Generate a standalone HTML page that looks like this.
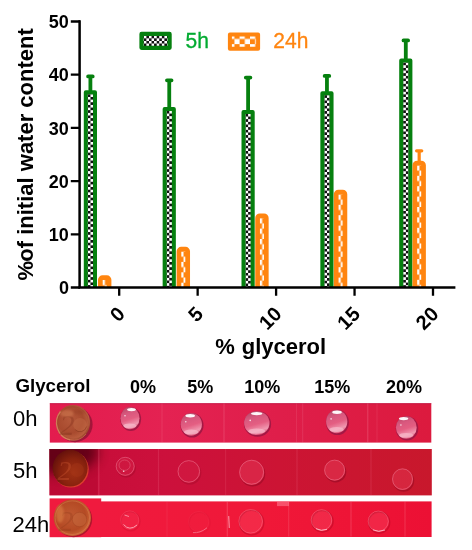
<!DOCTYPE html>
<html lang="en"><head><meta charset="utf-8"><title>Water content vs glycerol</title>
<style>html,body{margin:0;padding:0;background:#fff}body{width:472px;height:550px;overflow:hidden}svg{display:block}text{font-family:"Liberation Sans",sans-serif}.b{font-weight:bold}</style>
</head><body>
<svg width="472" height="550" viewBox="0 0 472 550">
<defs>
<pattern id="pg" width="5.3" height="5.3" patternUnits="userSpaceOnUse"><rect width="5.3" height="5.3" fill="#fff"/><rect width="2.65" height="2.65" fill="#111"/><rect x="2.65" y="2.65" width="2.65" height="2.65" fill="#111"/></pattern>
<pattern id="pg2" width="5.14" height="5.14" patternUnits="userSpaceOnUse"><rect width="5.14" height="5.14" fill="#fff"/><rect width="2.57" height="2.57" fill="#111"/><rect x="2.57" y="2.57" width="2.57" height="2.57" fill="#111"/></pattern>
<pattern id="po" width="10.4" height="10.4" patternUnits="userSpaceOnUse"><rect width="10.4" height="10.4" fill="#ff8510"/><rect width="5.2" height="5.2" fill="#fff"/><rect x="5.2" y="5.2" width="5.2" height="5.2" fill="#fff"/></pattern>
<filter color-interpolation-filters="sRGB" id="soft" x="-2%" y="-2%" width="104%" height="104%"><feGaussianBlur stdDeviation="0.4"/></filter>
<filter color-interpolation-filters="sRGB" id="b06" x="-20%" y="-20%" width="140%" height="140%"><feGaussianBlur stdDeviation="0.6"/></filter>
<filter color-interpolation-filters="sRGB" id="b1" x="-20%" y="-20%" width="140%" height="140%"><feGaussianBlur stdDeviation="1"/></filter>
<filter color-interpolation-filters="sRGB" id="b2" x="-30%" y="-30%" width="160%" height="160%"><feGaussianBlur stdDeviation="2.2"/></filter>
<filter color-interpolation-filters="sRGB" id="b5" x="-50%" y="-50%" width="200%" height="200%"><feGaussianBlur stdDeviation="6"/></filter>
<filter color-interpolation-filters="sRGB" id="edge" x="-2%" y="-5%" width="104%" height="110%"><feGaussianBlur stdDeviation="0.45"/></filter>
<linearGradient id="gdrop" x1="0.3" y1="0" x2="0.6" y2="1"><stop offset="0" stop-color="#b84868"/><stop offset="0.28" stop-color="#d8587e"/><stop offset="0.55" stop-color="#e45e82"/><stop offset="0.82" stop-color="#f098b0"/><stop offset="1" stop-color="#dc5478"/></linearGradient>
<radialGradient id="gflat" cx="0.42" cy="0.38" r="0.75"><stop offset="0" stop-color="#e43458"/><stop offset="0.7" stop-color="#dc2c50"/><stop offset="1" stop-color="#c41c40"/></radialGradient>
<radialGradient id="gc1" cx="0.42" cy="0.42" r="0.62"><stop offset="0" stop-color="#b4583a"/><stop offset="0.6" stop-color="#a84a2e"/><stop offset="0.88" stop-color="#ba5e3e"/><stop offset="1" stop-color="#8c3424"/></radialGradient>
<radialGradient id="gc2" cx="0.6" cy="0.62" r="0.75"><stop offset="0" stop-color="#a03214"/><stop offset="0.5" stop-color="#88220e"/><stop offset="1" stop-color="#580a0a"/></radialGradient>
<radialGradient id="gc3" cx="0.45" cy="0.45" r="0.62"><stop offset="0" stop-color="#c05a32"/><stop offset="0.65" stop-color="#b44a24"/><stop offset="0.9" stop-color="#cc6434"/><stop offset="1" stop-color="#98341a"/></radialGradient>
<linearGradient id="gs1" x1="0" x2="1" y1="0" y2="0"><stop offset="0" stop-color="#e31c4e"/><stop offset="0.3" stop-color="#e42252"/><stop offset="0.6" stop-color="#df1e4a"/><stop offset="1" stop-color="#dc1a3e"/></linearGradient>
<linearGradient id="gs2" gradientUnits="userSpaceOnUse" x1="49.4" x2="432.6" y1="0" y2="0"><stop offset="0" stop-color="#c40c38"/><stop offset="0.3" stop-color="#cc103c"/><stop offset="0.6" stop-color="#cc1434"/><stop offset="1" stop-color="#c8182c"/></linearGradient>
<linearGradient id="gs3" x1="0" x2="1" y1="0" y2="0"><stop offset="0" stop-color="#f01a3e"/><stop offset="0.5" stop-color="#f01838"/><stop offset="1" stop-color="#ec1034"/></linearGradient>
<clipPath id="cl2"><rect x="49.4" y="449" width="382.4" height="46.4"/></clipPath>
</defs>
<rect width="472" height="550" fill="#fff"/>
<g id="chart" filter="url(#soft)">
<path d="M90.4 90.3V76.4M88.1 76.4H92.7" stroke="#06800f" stroke-width="3.8" stroke-linecap="round" fill="none"/>
<g transform="translate(87.8 94.3)"><rect x="-2" y="-2" width="9.2" height="197.2" fill="url(#pg)" stroke="#06800f" stroke-width="4.0" stroke-linejoin="round"/></g>
<g transform="translate(99.7 280)"><rect x="0.65" y="-2.35" width="8.7" height="12.2" rx="2.2" fill="url(#po)" stroke="#ff8510" stroke-width="4.7" stroke-linejoin="round"/></g>
<path d="M169.25 106.9V80.3M166.95 80.3H171.55" stroke="#06800f" stroke-width="3.8" stroke-linecap="round" fill="none"/>
<g transform="translate(166.65 110.9)"><rect x="-2" y="-2" width="9.2" height="180.6" fill="url(#pg)" stroke="#06800f" stroke-width="4.0" stroke-linejoin="round"/></g>
<g transform="translate(178.32 251.5)"><rect x="0.65" y="-2.35" width="8.7" height="40.7" rx="2.2" fill="url(#po)" stroke="#ff8510" stroke-width="4.7" stroke-linejoin="round"/></g>
<path d="M248.1 109.9V77.6M245.8 77.6H250.4" stroke="#06800f" stroke-width="3.8" stroke-linecap="round" fill="none"/>
<g transform="translate(245.5 113.9)"><rect x="-2" y="-2" width="9.2" height="177.6" fill="url(#pg)" stroke="#06800f" stroke-width="4.0" stroke-linejoin="round"/></g>
<g transform="translate(256.94 218.2)"><rect x="0.65" y="-2.35" width="8.7" height="74" rx="2.2" fill="url(#po)" stroke="#ff8510" stroke-width="4.7" stroke-linejoin="round"/></g>
<path d="M326.95 91.2V75.9M324.65 75.9H329.25" stroke="#06800f" stroke-width="3.8" stroke-linecap="round" fill="none"/>
<g transform="translate(324.35 95.2)"><rect x="-2" y="-2" width="9.2" height="196.3" fill="url(#pg)" stroke="#06800f" stroke-width="4.0" stroke-linejoin="round"/></g>
<g transform="translate(335.56 194.4)"><rect x="0.65" y="-2.35" width="8.7" height="97.8" rx="2.2" fill="url(#po)" stroke="#ff8510" stroke-width="4.7" stroke-linejoin="round"/></g>
<path d="M405.8 58.6V40.4M403.5 40.4H408.1" stroke="#06800f" stroke-width="3.8" stroke-linecap="round" fill="none"/>
<g transform="translate(403.2 62.6)"><rect x="-2" y="-2" width="9.2" height="228.9" fill="url(#pg)" stroke="#06800f" stroke-width="4.0" stroke-linejoin="round"/></g>
<path d="M419.18 160.7V150.8M416.58 150.8H421.78" stroke="#ff8510" stroke-width="3.2" stroke-linecap="round" fill="none"/>
<g transform="translate(414.18 165.4)"><rect x="0.65" y="-2.35" width="8.7" height="126.8" rx="2.2" fill="url(#po)" stroke="#ff8510" stroke-width="4.7" stroke-linejoin="round"/></g>
<rect x="60" y="287.5" width="412" height="12" fill="#fff"/>
<path d="M79.6 20.3V288.75M78.2 287.5H455.4" stroke="#000" stroke-width="2.5" fill="none"/>
<path d="M70.8 287.5H80M70.8 234.3H80M70.8 181.1H80M70.8 127.9H80M70.8 74.7H80M70.8 21.5H80M119.2 287.5V295.8M197.65 287.5V295.8M276.1 287.5V295.8M354.55 287.5V295.8M433 287.5V295.8" stroke="#000" stroke-width="2.3" fill="none"/>
<text class="b" x="68.9" y="294.1" font-size="18" text-anchor="end">0</text>
<text class="b" x="68.9" y="240.9" font-size="18" text-anchor="end">10</text>
<text class="b" x="68.9" y="187.7" font-size="18" text-anchor="end">20</text>
<text class="b" x="68.9" y="134.5" font-size="18" text-anchor="end">30</text>
<text class="b" x="68.9" y="81.3" font-size="18" text-anchor="end">40</text>
<text class="b" x="68.9" y="28.1" font-size="18" text-anchor="end">50</text>
<text class="b" font-size="20" text-anchor="end" transform="translate(126 315.2) rotate(-45)">0</text>
<text class="b" font-size="20" text-anchor="end" transform="translate(204.45 315.2) rotate(-45)">5</text>
<text class="b" font-size="20" text-anchor="end" transform="translate(282.9 315.2) rotate(-45)">10</text>
<text class="b" font-size="20" text-anchor="end" transform="translate(361.35 315.2) rotate(-45)">15</text>
<text class="b" font-size="20" text-anchor="end" transform="translate(439.8 315.2) rotate(-45)">20</text>
<text class="b" font-size="22" transform="translate(32.9 280.4) rotate(-90)">%</text>
<text class="b" font-size="22" text-anchor="end" transform="translate(32.9 28.2) rotate(-90)">of initial water content</text>
<text class="b" font-size="22" x="215.2" y="353.8">% <tspan dx="0.8">glycerol</tspan></text>
<g transform="translate(146.4 35.8)"><rect x="-4.9" y="-1.9" width="28.1" height="13.9" fill="url(#pg2)" stroke="#06800f" stroke-width="4.2" stroke-linejoin="round"/></g>
<text font-size="21" transform="translate(185.6 47.7) scale(1 1.07)" fill="#00aa30" stroke="#00aa30" stroke-width="0.3">5h</text>
<g transform="translate(229.2 33.75)"><rect x="0.7" y="0.65" width="28.2" height="14.3" fill="url(#po)" stroke="#ff8510" stroke-width="4" stroke-linejoin="round"/></g>
<text font-size="21" transform="translate(273.3 47.7) scale(1 1.07)" fill="#ff8510" stroke="#ff8510" stroke-width="0.3">24h</text>
</g>
<g id="panel">
<g filter="url(#soft)">
<text class="b" font-size="18" x="15.4" y="392.4" textLength="75" lengthAdjust="spacingAndGlyphs">Glycerol</text>
<text class="b" font-size="18" x="143.1" y="393.2" text-anchor="middle">0%</text>
<text class="b" font-size="18" x="200.3" y="393.2" text-anchor="middle">5%</text>
<text class="b" font-size="18" x="262.3" y="393.2" text-anchor="middle">10%</text>
<text class="b" font-size="18" x="332.2" y="393.2" text-anchor="middle">15%</text>
<text class="b" font-size="18" x="403.9" y="393.2" text-anchor="middle">20%</text>
<text font-size="22" x="13" y="426">0h</text>
<text font-size="22" x="13" y="478.4">5h</text>
<text font-size="22" x="12.6" y="531.8">24h</text>
</g>
<g filter="url(#edge)">
<rect x="49.8" y="403.2" width="381.5" height="39.4" fill="url(#gs1)"/>
<rect x="49.8" y="403.2" width="381.5" height="1" fill="#b01444" opacity="0.55"/>
<rect x="161.5" y="403.4" width="1" height="39" fill="#ffb0c0" opacity="0.15"/>
<rect x="223.5" y="403.4" width="1" height="39" fill="#ffb0c0" opacity="0.22"/>
<rect x="296.0" y="403.4" width="1" height="39" fill="#ffb0c0" opacity="0.12"/>
<rect x="302.2" y="403.4" width="1" height="39" fill="#ffb0c0" opacity="0.15"/>
<rect x="367.3" y="403.4" width="1" height="39" fill="#ffb0c0" opacity="0.25"/>
<rect x="376.5" y="403.4" width="1" height="39" fill="#ffb0c0" opacity="0.12"/>
</g>
<g filter="url(#edge)">
<rect x="49.4" y="449" width="382.4" height="46.4" fill="url(#gs2)"/>
<g clip-path="url(#cl2)">
<rect x="49.4" y="448.7" width="48.2" height="46.6" fill="#b00830" opacity="0.4"/>
<ellipse cx="58" cy="452" rx="40" ry="22" fill="#5c0014" opacity="0.9" filter="url(#b5)"/>
</g>
<rect x="98.2" y="449" width="1.2" height="46" fill="#ff90a8" opacity="0.2"/>
<rect x="157.9" y="449" width="1.2" height="46" fill="#ff90a8" opacity="0.16"/>
<rect x="225.0" y="449" width="1.2" height="46" fill="#ff90a8" opacity="0.12"/>
<rect x="296.4" y="449" width="1.2" height="46" fill="#ff90a8" opacity="0.15"/>
<rect x="370.4" y="449" width="1.2" height="46" fill="#ff90a8" opacity="0.15"/>
</g>
<g filter="url(#edge)">
<rect x="49.6" y="498.4" width="51.6" height="38.8" fill="#f01a3e"/>
<rect x="101" y="501.4" width="330.6" height="35.6" fill="url(#gs3)"/>
<rect x="166.4" y="501.6" width="1.2" height="35" fill="#ffa0b0" opacity="0.1"/>
<rect x="226.70000000000002" y="501.6" width="1.2" height="35" fill="#ffa0b0" opacity="0.25"/>
<rect x="288.09999999999997" y="501.6" width="1.2" height="35" fill="#ffa0b0" opacity="0.18"/>
<rect x="350.4" y="501.6" width="1.2" height="35" fill="#ffa0b0" opacity="0.22"/>
<rect x="404.4" y="501.6" width="1.2" height="35" fill="#ffa0b0" opacity="0.2"/>
<rect x="277" y="501.6" width="12" height="4.5" fill="#ff8ca0" opacity="0.5"/>
</g>
<g filter="url(#b06)">
<ellipse cx="75" cy="424.6" rx="17.6" ry="17.6" fill="#981436" opacity="0.85"/>
<ellipse cx="73" cy="422.8" rx="17.2" ry="17.8" fill="url(#gc1)"/>
<path d="M60.5 411.5 A17 17.6 0 0 0 70 440" fill="none" stroke="#e09068" stroke-width="1.3" opacity="0.7"/>
<path d="M70 440 A17 17.6 0 0 0 86 434" fill="none" stroke="#d8845c" stroke-width="1" opacity="0.5"/>
<ellipse cx="73" cy="422.8" rx="15.6" ry="16.2" fill="none" stroke="#8c3c24" stroke-width="0.7" opacity="0.35"/>
<circle cx="80" cy="424.7" r="6.8" fill="#c06844" opacity="0.5"/>
<path d="M75 429.5 A6.8 6.8 0 0 0 86.6 426.5" fill="none" stroke="#7c3018" stroke-width="0.9" opacity="0.5"/>
<text x="59.5" y="435" font-size="30" font-style="italic" fill="#7c2c18" opacity="0.33" style="font-family:'Liberation Serif',serif">2</text>
<ellipse cx="67" cy="413.5" rx="7" ry="3.5" fill="#d88458" opacity="0.45" filter="url(#b1)"/>
<ellipse cx="79" cy="412" rx="6" ry="2.5" fill="#8c3820" opacity="0.3" filter="url(#b1)"/>
</g>
<g filter="url(#b06)">
<ellipse cx="71" cy="469.3" rx="17.7" ry="18.3" fill="#e44c2c" opacity="0.8"/>
<ellipse cx="70.1" cy="468.2" rx="17.5" ry="18.4" fill="url(#gc2)"/>
<circle cx="77" cy="470" r="7" fill="#a83818" opacity="0.4"/>
<text x="57.5" y="479.5" font-size="28" font-style="italic" fill="#d86038" opacity="0.32" style="font-family:'Liberation Serif',serif">2</text>
</g>
<g filter="url(#b06)">
<ellipse cx="73.6" cy="519" rx="18.6" ry="18.2" fill="#a01428" opacity="0.8"/>
<ellipse cx="72.3" cy="517.7" rx="18.7" ry="18.3" fill="url(#gc3)"/>
<ellipse cx="72.3" cy="517.7" rx="17.2" ry="16.8" fill="none" stroke="#e08c5c" stroke-width="0.9" opacity="0.45"/>
<circle cx="79.5" cy="519.5" r="7.2" fill="#c86c40" opacity="0.45"/>
<circle cx="79.5" cy="519.5" r="7.2" fill="none" stroke="#983c1c" stroke-width="0.8" opacity="0.4"/>
<text x="58.5" y="530.5" font-size="30" font-style="italic" fill="#8c3818" opacity="0.3" style="font-family:'Liberation Serif',serif">2</text>
<ellipse cx="60" cy="514" rx="4" ry="9" fill="#e89050" opacity="0.45" filter="url(#b1)"/>
</g>
<g filter="url(#b06)">
<ellipse cx="130.7" cy="419.09999999999997" rx="10.4" ry="12.0" fill="#a41844"/>
<ellipse cx="130.0" cy="418.2" rx="9.5" ry="11.1" fill="url(#gdrop)"/>
<ellipse cx="129.89999999999998" cy="425.8" rx="6.4" ry="2.4" fill="#f8bccc" opacity="0.7" filter="url(#b06)"/>
<ellipse cx="131.5" cy="409.6" rx="4.4" ry="1.7" fill="#fff" opacity="0.95"/>
<circle cx="125.0" cy="415.8" r="0.8" fill="#fff" opacity="0.8"/>
</g>
<g filter="url(#b06)">
<ellipse cx="192.0" cy="425.2" rx="11.5" ry="12.3" fill="#a41844"/>
<ellipse cx="191.3" cy="424.3" rx="10.6" ry="11.4" fill="url(#gdrop)"/>
<ellipse cx="191.2" cy="432.1" rx="7.1" ry="2.5" fill="#f8bccc" opacity="0.7" filter="url(#b06)"/>
<ellipse cx="190.2" cy="415.8" rx="4.8" ry="1.7" fill="#fff" opacity="0.95"/>
<circle cx="185.8" cy="421.8" r="0.8" fill="#fff" opacity="0.8"/>
</g>
<g filter="url(#b06)">
<ellipse cx="257.5" cy="423.9" rx="13.6" ry="12.9" fill="#a41844"/>
<ellipse cx="256.8" cy="423.0" rx="12.7" ry="12.0" fill="url(#gdrop)"/>
<ellipse cx="256.7" cy="431.2" rx="8.4" ry="2.6" fill="#f8bccc" opacity="0.7" filter="url(#b06)"/>
<ellipse cx="256.7" cy="413.6" rx="5.7" ry="1.7" fill="#fff" opacity="0.95"/>
<circle cx="250.2" cy="420.4" r="0.8" fill="#fff" opacity="0.8"/>
</g>
<g filter="url(#b06)">
<ellipse cx="337.4" cy="422.4" rx="11.5" ry="12.7" fill="#a41844"/>
<ellipse cx="336.7" cy="421.5" rx="10.6" ry="11.799999999999999" fill="url(#gdrop)"/>
<ellipse cx="336.59999999999997" cy="429.6" rx="7.1" ry="2.5" fill="#f8bccc" opacity="0.7" filter="url(#b06)"/>
<ellipse cx="337" cy="412.2" rx="4.8" ry="1.7" fill="#fff" opacity="0.95"/>
<circle cx="331.1" cy="418.9" r="0.8" fill="#fff" opacity="0.8"/>
</g>
<g filter="url(#b06)">
<ellipse cx="407.0" cy="428.4" rx="11.3" ry="12.2" fill="#a41844"/>
<ellipse cx="406.3" cy="427.5" rx="10.4" ry="11.299999999999999" fill="url(#gdrop)"/>
<ellipse cx="406.2" cy="435.3" rx="7.0" ry="2.4" fill="#f8bccc" opacity="0.7" filter="url(#b06)"/>
<ellipse cx="403.6" cy="418.6" rx="4.7" ry="1.7" fill="#fff" opacity="0.95"/>
<circle cx="400.9" cy="425.0" r="0.8" fill="#fff" opacity="0.8"/>
</g>
<g filter="url(#b06)">
<ellipse cx="126.2" cy="467.90000000000003" rx="9.7" ry="9.7" fill="#84061f" opacity="0.27"/>
<ellipse cx="125.4" cy="466.6" rx="9.399999999999999" ry="9.399999999999999" fill="url(#gs2)"/>
<ellipse cx="125.4" cy="466.6" rx="9.399999999999999" ry="9.399999999999999" fill="#f8506c" opacity="0.12"/>
<ellipse cx="125.2" cy="466.3" rx="9.0" ry="9.0" fill="none" stroke="#f48ca4" stroke-width="0.9" opacity="0.5"/>
</g>
<ellipse cx="124.6" cy="465.2" rx="5.6" ry="5.2" fill="none" stroke="#f08ca0" stroke-width="0.8" opacity="0.45" filter="url(#b06)"/>
<circle cx="123.7" cy="471.2" r="0.8" fill="#fff" opacity="0.8"/>
<g filter="url(#b06)">
<ellipse cx="189.8" cy="473.0" rx="11.5" ry="11.5" fill="#84061f" opacity="0.25"/>
<ellipse cx="189" cy="471.7" rx="11.2" ry="11.2" fill="url(#gs2)"/>
<ellipse cx="189" cy="471.7" rx="11.2" ry="11.2" fill="#f8506c" opacity="0.10"/>
<ellipse cx="188.8" cy="471.4" rx="10.8" ry="10.8" fill="none" stroke="#f48ca4" stroke-width="0.9" opacity="0.5"/>
</g>
<g filter="url(#b06)">
<ellipse cx="252.60000000000002" cy="473.8" rx="12.7" ry="12.7" fill="#84061f" opacity="0.45"/>
<ellipse cx="251.8" cy="472.5" rx="12.399999999999999" ry="12.399999999999999" fill="url(#gs2)"/>
<ellipse cx="251.8" cy="472.5" rx="12.399999999999999" ry="12.399999999999999" fill="#f8506c" opacity="0.30"/>
<ellipse cx="251.60000000000002" cy="472.2" rx="12.0" ry="12.0" fill="none" stroke="#f48ca4" stroke-width="0.9" opacity="0.5"/>
</g>
<g filter="url(#b06)">
<ellipse cx="335.6" cy="471.7" rx="10.7" ry="10.7" fill="#84061f" opacity="0.47"/>
<ellipse cx="334.8" cy="470.4" rx="10.399999999999999" ry="10.399999999999999" fill="url(#gs2)"/>
<ellipse cx="334.8" cy="470.4" rx="10.399999999999999" ry="10.399999999999999" fill="#f8506c" opacity="0.32"/>
<ellipse cx="334.6" cy="470.09999999999997" rx="10.0" ry="10.0" fill="none" stroke="#f48ca4" stroke-width="0.9" opacity="0.5"/>
</g>
<g filter="url(#b06)">
<ellipse cx="403.5" cy="480.7" rx="10.7" ry="11" fill="#84061f" opacity="0.43"/>
<ellipse cx="402.7" cy="479.4" rx="10.399999999999999" ry="10.7" fill="url(#gs2)"/>
<ellipse cx="402.7" cy="479.4" rx="10.399999999999999" ry="10.7" fill="#f8506c" opacity="0.28"/>
<ellipse cx="402.5" cy="479.09999999999997" rx="10.0" ry="10.3" fill="none" stroke="#f48ca4" stroke-width="0.9" opacity="0.5"/>
</g>
<g filter="url(#b06)">
<ellipse cx="130.6" cy="521.3" rx="9.5" ry="9.5" fill="none" stroke="#b00824" stroke-width="1.3" opacity="0.22"/>
<ellipse cx="130" cy="520.4" rx="8.9" ry="8.9" fill="#ff7088" opacity="0.10"/>
<ellipse cx="129.7" cy="520.0" rx="9.1" ry="9.1" fill="none" stroke="#ffa0b0" stroke-width="0.8" opacity="0.21"/>
</g>
<path d="M123.5 524.5 Q129.5 531.5 137 525" fill="none" stroke="#ffd0d8" stroke-width="1" opacity="0.7" filter="url(#b06)"/>
<path d="M124.5 515 L129 516.5" fill="none" stroke="#ffd0d8" stroke-width="1" opacity="0.6" filter="url(#b06)"/>
<g filter="url(#b06)">
<ellipse cx="199.6" cy="522.9" rx="10.5" ry="10.5" fill="none" stroke="#b00824" stroke-width="1.3" opacity="0.10"/>
<ellipse cx="199" cy="522" rx="9.9" ry="9.9" fill="#ff7088" opacity="0.04"/>
<ellipse cx="198.7" cy="521.6" rx="10.1" ry="10.1" fill="none" stroke="#ffa0b0" stroke-width="0.8" opacity="0.09"/>
</g>
<path d="M193 532.6 Q200 533.5 207 527.8" fill="none" stroke="#ffc0cc" stroke-width="0.9" opacity="0.5" filter="url(#b06)"/>
<path d="M228.6 516 L229.4 528" stroke="#ffd8e0" stroke-width="1.4" opacity="0.5" filter="url(#b06)"/>
<g filter="url(#b06)">
<ellipse cx="251.6" cy="522.6" rx="12.2" ry="12.2" fill="none" stroke="#b00824" stroke-width="1.3" opacity="0.45"/>
<ellipse cx="251" cy="521.7" rx="11.6" ry="11.6" fill="#ff7088" opacity="0.20"/>
<ellipse cx="250.7" cy="521.3000000000001" rx="11.799999999999999" ry="11.799999999999999" fill="none" stroke="#ffa0b0" stroke-width="0.8" opacity="0.42"/>
</g>
<g filter="url(#b06)">
<ellipse cx="322.40000000000003" cy="521.3" rx="10.7" ry="10.7" fill="none" stroke="#b00824" stroke-width="1.3" opacity="0.48"/>
<ellipse cx="321.8" cy="520.4" rx="10.1" ry="10.1" fill="#ff7088" opacity="0.21"/>
<ellipse cx="321.5" cy="520.0" rx="10.299999999999999" ry="10.299999999999999" fill="none" stroke="#ffa0b0" stroke-width="0.8" opacity="0.45"/>
</g>
<path d="M316 528.6 Q321 531.6 327 529.4" fill="none" stroke="#ffe0e6" stroke-width="1" opacity="0.7" filter="url(#b06)"/>
<g filter="url(#b06)">
<ellipse cx="379.20000000000005" cy="522.5" rx="10.5" ry="10.5" fill="none" stroke="#b00824" stroke-width="1.3" opacity="0.48"/>
<ellipse cx="378.6" cy="521.6" rx="9.9" ry="9.9" fill="#ff7088" opacity="0.21"/>
<ellipse cx="378.3" cy="521.2" rx="10.1" ry="10.1" fill="none" stroke="#ffa0b0" stroke-width="0.8" opacity="0.45"/>
</g>
<path d="M373 529.8 Q378.5 532.8 385 530" fill="none" stroke="#ffe0e6" stroke-width="1" opacity="0.7" filter="url(#b06)"/>
<path d="M417 519.2 H431" stroke="#ff8098" stroke-width="0.9" opacity="0.45" filter="url(#b06)"/>
</g>
</svg></body></html>
